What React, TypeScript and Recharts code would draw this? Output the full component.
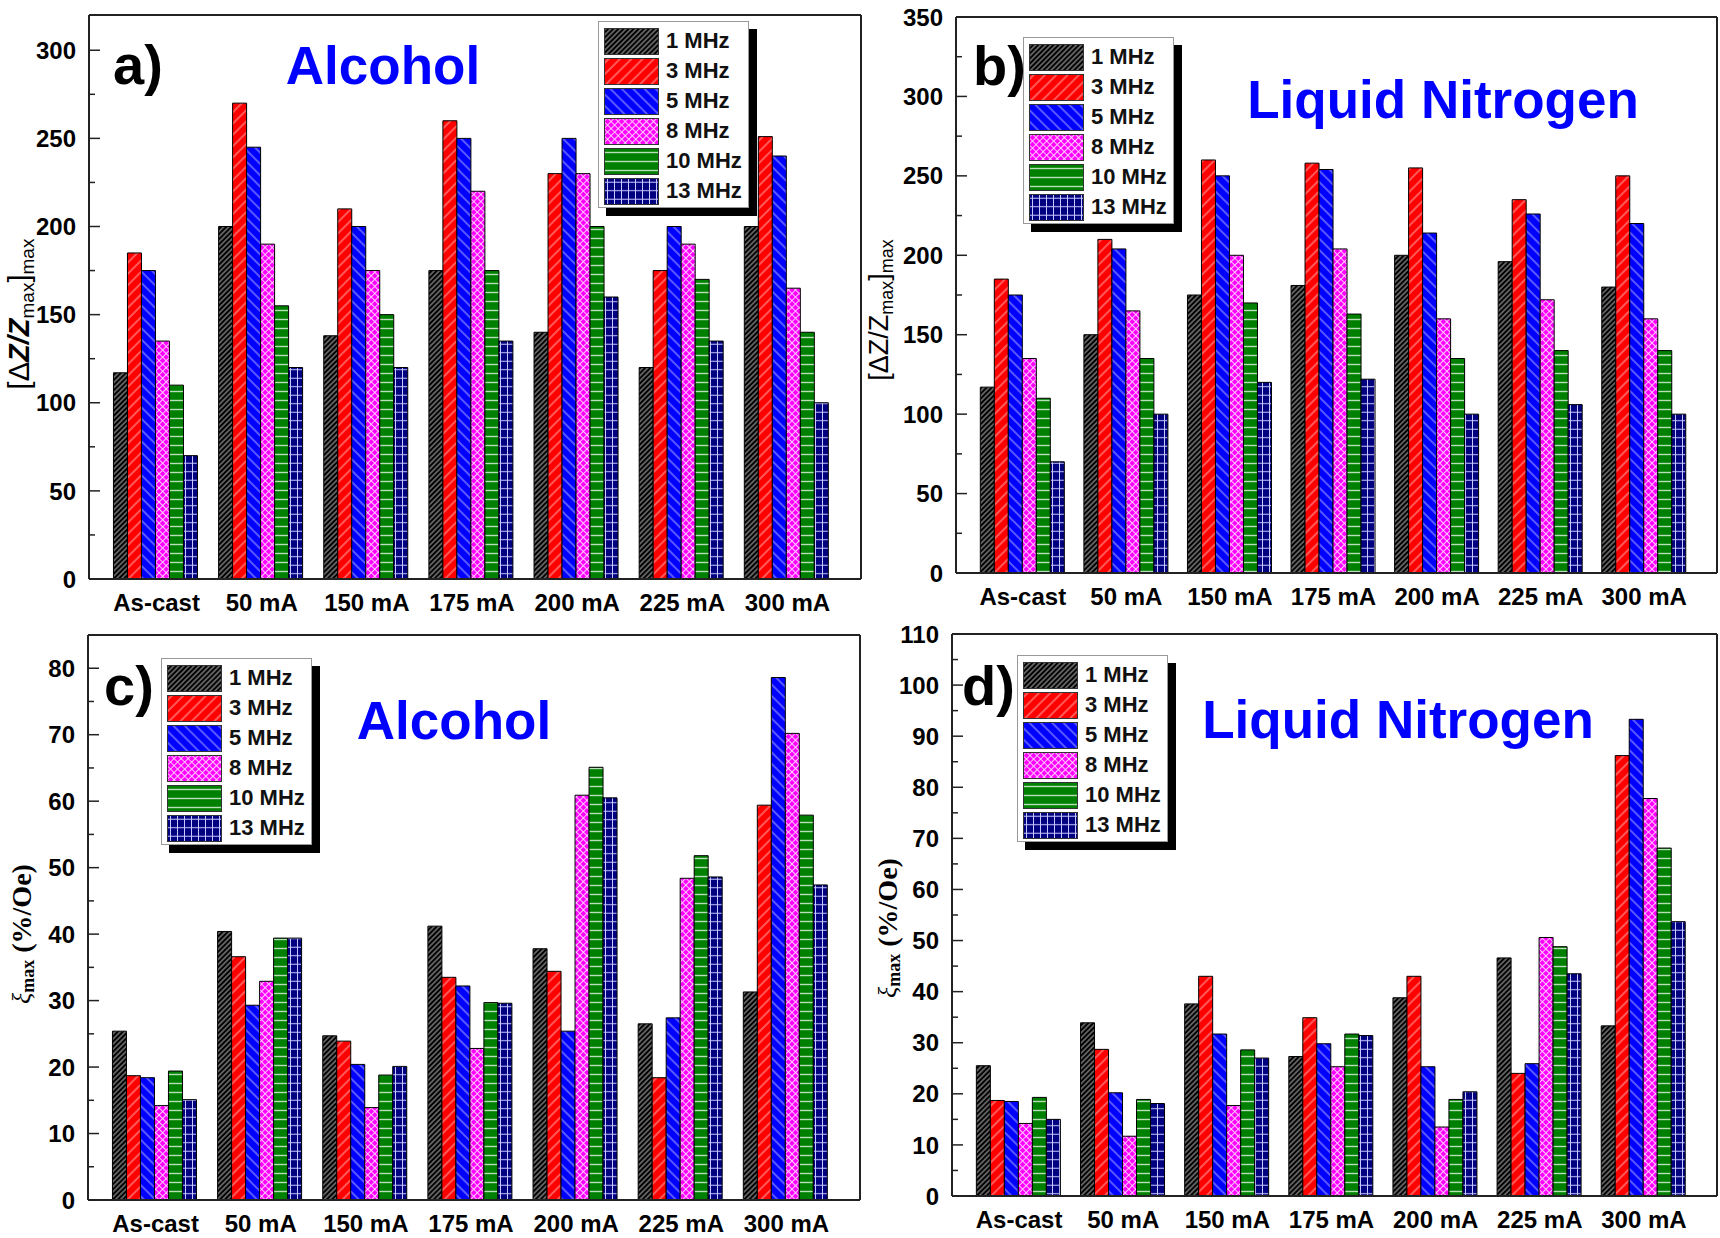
import React from 'react';
import { BarChart, Bar, XAxis, YAxis, Legend } from 'recharts';

const categories = ['As-cast', '50 mA', '150 mA', '175 mA', '200 mA', '225 mA', '300 mA'];
const frequencies = ['1 MHz', '3 MHz', '5 MHz', '8 MHz', '10 MHz', '13 MHz'];

// [ΔZ/Zmax]max, alcohol quenched; one row per frequency
const gmiAlcohol = [
  [117, 200, 138, 175, 140, 120, 200],
  [185, 270, 210, 260, 230, 175, 251],
  [175, 245, 200, 250, 250, 200, 240],
  [135, 190, 175, 220, 230, 190, 165],
  [110, 155, 150, 175, 200, 170, 140],
  [70, 120, 120, 135, 160, 135, 100],
];

// [ΔZ/Zmax]max, liquid nitrogen quenched
const gmiNitrogen = [
  [117, 150, 175, 181, 200, 196, 180],
  [185, 210, 260, 258, 255, 235, 250],
  [175, 204, 250, 254, 214, 226, 220],
  [135, 165, 200, 204, 160, 172, 160],
  [110, 135, 170, 163, 135, 140, 140],
  [70, 100, 120, 122, 100, 106, 100],
];

// ξmax (%/Oe), alcohol quenched
const sensAlcohol = [
  [25.4, 40.4, 24.7, 41.2, 37.8, 26.5, 31.3],
  [18.7, 36.6, 23.9, 33.5, 34.4, 18.4, 59.4],
  [18.4, 29.3, 20.4, 32.2, 25.4, 27.4, 78.6],
  [14.2, 32.9, 13.9, 22.8, 60.9, 48.4, 70.2],
  [19.4, 39.4, 18.8, 29.7, 65.1, 51.8, 57.9],
  [15.1, 39.4, 20.1, 29.6, 60.5, 48.6, 47.4],
];

// ξmax (%/Oe), liquid nitrogen quenched
const sensNitrogen = [
  [25.5, 33.9, 37.6, 27.3, 38.8, 46.6, 33.3],
  [18.7, 28.7, 43.0, 34.9, 43.0, 24.0, 86.2],
  [18.5, 20.2, 31.7, 29.8, 25.3, 25.9, 93.3],
  [14.2, 11.7, 17.7, 25.3, 13.5, 50.6, 77.8],
  [19.3, 18.9, 28.6, 31.7, 18.9, 48.8, 68.1],
  [15.0, 18.1, 27.0, 31.4, 20.4, 43.5, 53.7],
];

const gmiAlcoholTicks = [0, 50, 100, 150, 200, 250, 300];
const gmiNitrogenTicks = [0, 50, 100, 150, 200, 250, 300, 350];
const sensAlcoholTicks = [0, 10, 20, 30, 40, 50, 60, 70, 80];
const sensNitrogenTicks = [0, 10, 20, 30, 40, 50, 60, 70, 80, 90, 100, 110];

const SANS = '"Liberation Sans", Arial, sans-serif';
const SERIF = '"Liberation Serif", "Times New Roman", serif';
const AXIS = '#222';

const toRows = (series: number[][]) =>
  categories.map((name, i) => {
    const row: Record<string, string | number> = { name };
    series.forEach((s, k) => { row[`f${k}`] = s[i]; });
    return row;
  });

// major ticks plus the midpoints between them
const withMinors = (majors: number[]) => {
  const out: number[] = [];
  majors.forEach((v, i) => {
    out.push(v);
    if (i < majors.length - 1) out.push((v + majors[i + 1]) / 2);
  });
  return out;
};

function Patterns() {
  return (
    <svg width={0} height={0} style={{ position: 'absolute' }}>
      <defs>
        <pattern id="pat0" patternUnits="userSpaceOnUse" width={3.6} height={10} patternTransform="rotate(45)">
          <rect width={3.6} height={10} fill="#000" />
          <line x1={1.8} y1={0} x2={1.8} y2={10} stroke="#b0b0b0" strokeWidth={1} />
        </pattern>
        <pattern id="pat1" patternUnits="userSpaceOnUse" width={8} height={10} patternTransform="rotate(45)">
          <rect width={8} height={10} fill="#ff0000" />
          <line x1={4} y1={0} x2={4} y2={10} stroke="#ffb0b0" strokeWidth={1} />
        </pattern>
        <pattern id="pat2" patternUnits="userSpaceOnUse" width={8} height={10} patternTransform="rotate(-45)">
          <rect width={8} height={10} fill="#0000ff" />
          <line x1={4} y1={0} x2={4} y2={10} stroke="#b0b0ff" strokeWidth={1} />
        </pattern>
        <pattern id="pat3" patternUnits="userSpaceOnUse" width={5} height={5} patternTransform="rotate(45)">
          <rect width={5} height={5} fill="#ff00ff" />
          <line x1={2.5} y1={0} x2={2.5} y2={5} stroke="#ffe0ff" strokeWidth={0.9} />
          <line x1={0} y1={2.5} x2={5} y2={2.5} stroke="#ffe0ff" strokeWidth={0.9} />
        </pattern>
        <pattern id="pat4" patternUnits="userSpaceOnUse" width={10} height={9}>
          <rect width={10} height={9} fill="#008000" />
          <line x1={0} y1={4.5} x2={10} y2={4.5} stroke="#b8e0b8" strokeWidth={1.4} />
        </pattern>
        <pattern id="pat5" patternUnits="userSpaceOnUse" width={7} height={8.5}>
          <rect width={7} height={8.5} fill="#000080" />
          <line x1={3.5} y1={0} x2={3.5} y2={8.5} stroke="#c8c8ff" strokeWidth={1} />
          <line x1={0} y1={4.2} x2={7} y2={4.2} stroke="#c8c8ff" strokeWidth={1} />
        </pattern>
      </defs>
    </svg>
  );
}

function YTick(props: any) {
  const { x, y, payload, majors } = props;
  const major = majors.includes(payload.value);
  return (
    <g>
      <line x1={x} x2={x + (major ? 11 : 6)} y1={y} y2={y} stroke={AXIS} strokeWidth={1.5} />
      {major && (
        <text x={x - 13} y={y} dy="0.36em" textAnchor="end" fontSize={24} fontWeight="bold" fontFamily={SANS} fill="#000">
          {payload.value}
        </text>
      )}
    </g>
  );
}

function FreqLegend() {
  return (
    <div style={{ background: '#fff', border: '1px solid #999', boxShadow: '8px 8px 0 #000', padding: '4px 6px 1px 5px' }}>
      {frequencies.map((f, i) => (
        <div key={f} style={{ display: 'flex', alignItems: 'center', height: 30 }}>
          <svg width={55} height={27} style={{ display: 'block' }}>
            <rect x={0.5} y={0.5} width={54} height={26} fill={`url(#pat${i})`} stroke="#333" strokeWidth={1} />
          </svg>
          <span style={{ marginLeft: 7, fontFamily: SANS, fontWeight: 'bold', fontSize: 22, color: '#111', whiteSpace: 'nowrap' }}>{f}</span>
        </div>
      ))}
    </div>
  );
}

type PanelProps = {
  left: number;
  top: number;
  width: number;
  height: number;
  marginTop: number;
  marginRight: number;
  yWidth: number;
  xHeight: number;
  yMax: number;
  majors: number[];
  series: number[][];
  legendLeft: number;
  legendTop: number;
};

function Panel(p: PanelProps) {
  const rows = toRows(p.series);
  const ticks = withMinors(p.majors);
  return (
    <div style={{ position: 'absolute', left: p.left, top: p.top }}>
      <BarChart
        width={p.width}
        height={p.height}
        data={rows}
        margin={{ top: p.marginTop - 1, right: p.marginRight - 1, left: 0, bottom: 0 }}
        barCategoryGap="9%"
        barGap={0}
      >
        <XAxis
          dataKey="name"
          height={p.xHeight}
          interval={0}
          tickLine={false}
          tickSize={0}
          tickMargin={15}
          padding={{ left: 15, right: 21 }}
          axisLine={{ stroke: AXIS, strokeWidth: 2 }}
          tick={{ fill: '#000', fontSize: 24, fontWeight: 'bold', fontFamily: SANS }}
        />
        <XAxis xAxisId="top" dataKey="name" orientation="top" height={1} tick={false} tickLine={false} axisLine={{ stroke: AXIS, strokeWidth: 2 }} />
        <YAxis
          width={p.yWidth}
          domain={[0, p.yMax]}
          ticks={ticks}
          interval={0}
          tickLine={false}
          tickSize={0}
          tickMargin={0}
          axisLine={{ stroke: AXIS, strokeWidth: 2 }}
          tick={(t: any) => <YTick {...t} majors={p.majors} />}
        />
        <YAxis yAxisId="right" orientation="right" width={1} domain={[0, p.yMax]} tick={false} tickLine={false} axisLine={{ stroke: AXIS, strokeWidth: 2 }} />
        <Legend
          layout="vertical"
          align="center"
          verticalAlign="middle"
          content={() => <FreqLegend />}
          wrapperStyle={{ left: p.legendLeft, top: p.legendTop, width: 'auto', height: 'auto' }}
        />
        {frequencies.map((f, i) => (
          <Bar
            key={f}
            dataKey={`f${i}`}
            name={f}
            fill={`url(#pat${i})`}
            stroke="#000"
            strokeWidth={1}
            isAnimationActive={false}
          />
        ))}
      </BarChart>
    </div>
  );
}

const letterStyle = { fontFamily: SANS, fontWeight: 'bold' as const, fontSize: 56, fill: '#000' };
const titleStyle = { fontFamily: SANS, fontWeight: 'bold' as const, fontSize: 53, fill: '#0000ff' };

function Overlay() {
  return (
    <svg width={1720} height={1238} style={{ position: 'absolute', left: 0, top: 0, pointerEvents: 'none' }}>
      <text x={113} y={84} {...letterStyle}>a)</text>
      <text x={383} y={84} textAnchor="middle" {...titleStyle}>Alcohol</text>
      <text x={973} y={85} {...letterStyle}>b)</text>
      <text x={1443} y={118} textAnchor="middle" {...titleStyle}>Liquid Nitrogen</text>
      <text x={104} y={705} {...letterStyle}>c)</text>
      <text x={454} y={739} textAnchor="middle" {...titleStyle}>Alcohol</text>
      <text x={962} y={705} {...letterStyle}>d)</text>
      <text x={1398} y={738} textAnchor="middle" {...titleStyle}>Liquid Nitrogen</text>

      <text transform="translate(19,314) rotate(-90)" textAnchor="middle" dominantBaseline="central" fontFamily={SANS} fontSize={29} fill="#000">
        [Δ<tspan fontWeight="bold" fontStyle="italic">Z/Z</tspan>
        <tspan fontSize={19} dy={8}>max</tspan>
        <tspan dy={-8}>]</tspan>
        <tspan fontSize={19} dy={8}>max</tspan>
      </text>
      <text transform="translate(879,310) rotate(-90)" textAnchor="middle" dominantBaseline="central" fontFamily={SANS} fontSize={27} fill="#000">
        [ΔZ/Z<tspan fontSize={18} dy={8}>max</tspan>
        <tspan dy={-8}>]</tspan>
        <tspan fontSize={18} dy={8}>max</tspan>
      </text>
      <text transform="translate(21,934) rotate(-90)" textAnchor="middle" dominantBaseline="central" fontFamily={SERIF} fontSize={28} fill="#000">
        <tspan fontStyle="italic" fontSize={26}>ξ</tspan>
        <tspan fontSize={18} fontWeight="bold" dy={7}>max</tspan>
        <tspan fontWeight="bold" dy={-7}> (%/Oe)</tspan>
      </text>
      <text transform="translate(887,928) rotate(-90)" textAnchor="middle" dominantBaseline="central" fontFamily={SERIF} fontSize={28} fill="#000">
        <tspan fontStyle="italic" fontSize={26}>ξ</tspan>
        <tspan fontSize={18} fontWeight="bold" dy={7}>max</tspan>
        <tspan fontWeight="bold" dy={-7}> (%/Oe)</tspan>
      </text>
    </svg>
  );
}

export default function App() {
  return (
    <div style={{ position: 'absolute', left: 0, top: 0, width: 1720, height: 1238, background: '#fff', overflow: 'hidden' }}>
      <Patterns />
      <Panel left={0} top={0} width={870} height={620} marginTop={15} marginRight={9} yWidth={89} xHeight={41}
        yMax={320} majors={gmiAlcoholTicks} series={gmiAlcohol} legendLeft={598} legendTop={21} />
      <Panel left={860} top={0} width={860} height={620} marginTop={17} marginRight={3} yWidth={96} xHeight={47}
        yMax={350} majors={gmiNitrogenTicks} series={gmiNitrogen} legendLeft={163} legendTop={37} />
      <Panel left={0} top={620} width={870} height={618} marginTop={15} marginRight={10} yWidth={88} xHeight={38}
        yMax={85} majors={sensAlcoholTicks} series={sensAlcohol} legendLeft={161} legendTop={38} />
      <Panel left={860} top={620} width={860} height={618} marginTop={14} marginRight={3} yWidth={92} xHeight={42}
        yMax={110} majors={sensNitrogenTicks} series={sensNitrogen} legendLeft={157} legendTop={35} />
      <Overlay />
    </div>
  );
}
